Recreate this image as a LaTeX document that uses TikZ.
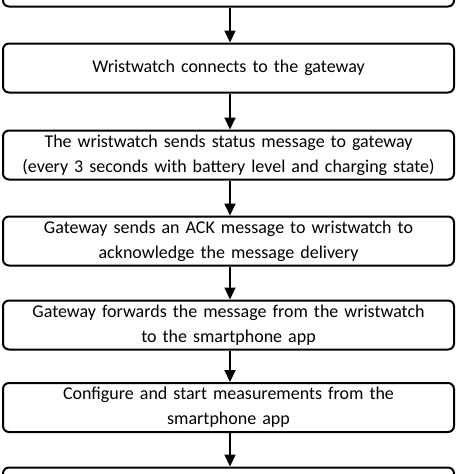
\documentclass[tikz,border=0pt]{standalone}
\usepackage{fontspec}
\setmainfont{Carlito}
\usetikzlibrary{arrows.meta}
\begin{document}
\begin{tikzpicture}[x=1pt,y=-1pt,
  stepbox/.style={draw=black, line width=2pt, rounded corners=6pt, minimum width=451pt, minimum height=49pt, inner sep=0pt, align=center, text width=445pt, font=\fontsize{18}{25}\selectfont},
  flow/.style={line width=2pt, -{Triangle[length=12pt,width=11pt]}}]
\useasboundingbox (0,0) rectangle (474,474);
\clip (0,0) rectangle (474,474);
\fill[white] (0,0) rectangle (474,474);
\node[stepbox] (b1) at (228.5,-18) {};
\node[stepbox] (b2) at (228.5,68) {Wristwatch connects to the gateway};
\node[stepbox] (b3) at (228.5,155) {The wristwatch sends status message to gateway\\(every 3 seconds with battery level and charging state)};
\node[stepbox] (b4) at (228.5,241) {Gateway sends an ACK message to wristwatch to\\acknowledge the message delivery};
\node[stepbox] (b5) at (228.5,325) {Gateway forwards the message from the wristwatch\\to the smartphone app};
\node[stepbox] (b6) at (228.5,407.5) {Configure and start measurements from the\\smartphone app};
\node[stepbox] (b7) at (228.5,492) {};
\draw[flow] (b1.south -| 230,0) -- (b2.north -| 230,0);
\draw[flow] (b2.south -| 230,0) -- (b3.north -| 230,0);
\draw[flow] (b3.south -| 230,0) -- (b4.north -| 230,0);
\draw[flow] (b4.south -| 230,0) -- (b5.north -| 230,0);
\draw[flow] (b5.south -| 230,0) -- (b6.north -| 230,0);
\draw[flow] (b6.south -| 230,0) -- (b7.north -| 230,0);
\end{tikzpicture}
\end{document}
